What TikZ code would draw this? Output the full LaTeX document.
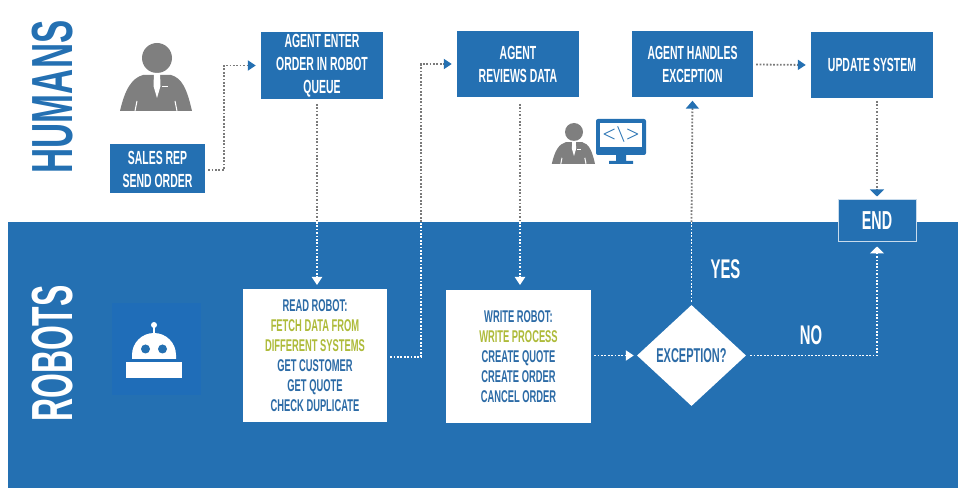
\documentclass[tikz,border=0pt]{standalone}
\usepackage{fontspec}
\newfontfamily\condfont[FakeStretch=0.55]{Liberation Sans}
\newfontfamily\headfont[FakeStretch=0.6]{Liberation Sans}
\usetikzlibrary{arrows.meta,shapes.geometric}
\definecolor{bandblue}{HTML}{2470B2}
\definecolor{squareblue}{HTML}{1F6DB8}
\definecolor{darktext}{HTML}{2C6BA6}
\definecolor{olivetext}{HTML}{AEBB3A}
\definecolor{dotgrey}{HTML}{7A7A7A}
\definecolor{mangrey}{HTML}{7F7F7F}
\tikzset{
  bluebox/.style={fill=bandblue,text=white,inner sep=0pt,align=center,font=\condfont\bfseries\fontsize{19}{23}\selectfont},
  whitebox/.style={fill=white,text=darktext,inner sep=0pt,align=center,font=\condfont\bfseries\fontsize{17}{20}\selectfont},
  headline/.style={text=bandblue,rotate=90,inner sep=0pt,font=\headfont\bfseries\fontsize{58}{58}\selectfont},
  greydot/.style={draw=dotgrey,line width=1.8pt,dash pattern=on 1.7pt off 1.7pt,-},
  whitedot/.style={draw=white,line width=1.8pt,dash pattern=on 1.7pt off 1.7pt,-},
  bluetip/.style={-{Triangle[length=8pt,width=10pt,color=bandblue]}},
  whitetip/.style={-{Triangle[length=8pt,width=10pt,color=white]}},
  person/.pic={
    \fill[mangrey] (0,0) circle (15);
    \fill[mangrey] (-37,53) .. controls (-32,31) and (-25,20) .. (-14,17) -- (14,17) .. controls (25,20) and (30,31) .. (35,53) -- cycle;
    \fill[white] (-3,15) -- (3,15) -- (3.5,28) -- (0,40) -- (-3.5,28) -- cycle;
    \draw[white,line width=1pt] (5,29) -- (11,29);
    \draw[white,line width=1pt] (-22,53) -- (-20,43);
    \draw[white,line width=1pt] (20,53) -- (18,43);
  }
}
\begin{document}
\begin{tikzpicture}[x=1pt,y=-1pt]
\useasboundingbox (0,0) rectangle (962,494);
\node[fill=bandblue,minimum width=950pt,minimum height=266pt,inner sep=0pt] (band) at (483,355) {};
\node[headline] (humans) at (53,97) {HUMANS};
\node[headline,text=white,font=\condfont\bfseries\fontsize{58}{58}\selectfont] (robots) at (53,353.5) {ROBOTS};
\node[bluebox,minimum width=95pt,minimum height=49pt] (sales) at (157.5,169) {SALES REP\\SEND ORDER};
\node[bluebox,minimum width=122pt,minimum height=67pt] (enter) at (322,65.5) {AGENT ENTER\\ORDER IN ROBOT\\QUEUE};
\node[bluebox,minimum width=122pt,minimum height=66pt] (reviews) at (518,64) {AGENT\\REVIEWS DATA};
\node[bluebox,minimum width=121pt,minimum height=66pt] (handles) at (692.5,64.5) {AGENT HANDLES\\EXCEPTION};
\node[bluebox,minimum width=122pt,minimum height=66pt] (update) at (872,65) {UPDATE SYSTEM};
\node[bluebox,draw=white!75!bandblue,line width=1pt,minimum width=78pt,minimum height=42pt,font=\condfont\bfseries\fontsize{26}{26}\selectfont] (endbox) at (877,221) {END};
\node[whitebox,minimum width=144pt,minimum height=133pt] (read) at (315,355.5) {READ ROBOT:\\\textcolor{olivetext}{FETCH DATA FROM}\\\textcolor{olivetext}{DIFFERENT SYSTEMS}\\GET CUSTOMER\\GET QUOTE\\CHECK DUPLICATE};
\node[whitebox,minimum width=145pt,minimum height=133pt] (write) at (518.5,356.5) {WRITE ROBOT:\\\textcolor{olivetext}{WRITE PROCESS}\\CREATE QUOTE\\CREATE ORDER\\CANCEL ORDER};
\node[diamond,aspect=1.08,fill=white,text=darktext,inner sep=0pt,minimum width=109pt,minimum height=101pt,font=\condfont\bfseries\fontsize{20}{20}\selectfont] (exception) at (691.5,355.5) {EXCEPTION?};
\node[text=white,inner sep=0pt,font=\condfont\bfseries\fontsize{27}{27}\selectfont] (yes) at (725.5,269) {YES};
\node[text=white,inner sep=0pt,font=\condfont\bfseries\fontsize{27}{27}\selectfont] (no) at (811,335) {NO};
%connectors
\coordinate (bendsales) at (224,170);
\coordinate (bendread) at (421,357);
\coordinate (crossenter) at (317,222);
\coordinate (crossread) at (421,222);
\coordinate (crossreviews) at (520,222);
\coordinate (crossyes) at (691.5,222);
\coordinate (readtop) at (317,289);
\coordinate (enterbottom) at (317,98);
\coordinate (writetop) at (520,289);
\coordinate (reviewsbottom) at (520,98);
\coordinate (updatebottom) at (877,98);
\draw[greydot,bluetip,shorten <=3pt,shorten >=5pt] (sales.east |- bendsales) -- (bendsales) |- (enter.west);
\draw[greydot,shorten <=6pt] (enterbottom) -- (crossenter);
\draw[whitedot,whitetip,shorten >=4pt] (crossenter) -- (readtop);
\draw[whitedot,shorten <=3pt] (read.east |- bendread) -- (bendread) -- (crossread);
\draw[greydot,bluetip,shorten >=5pt] (crossread) |- (reviews.west);
\draw[greydot,shorten <=6pt] (reviewsbottom) -- (crossreviews);
\draw[whitedot,whitetip,shorten >=4pt] (crossreviews) -- (writetop);
\draw[whitedot,whitetip,shorten <=3pt,shorten >=3pt] (write.east |- exception.west) -- (exception.west);
\draw[whitedot,shorten <=3pt] (exception.north) -- (crossyes);
\draw[greydot,-{Triangle[length=8pt,width=13pt,color=bandblue]},shorten >=3pt] (crossyes) -- (handles.south);
\draw[greydot,bluetip,shorten <=3pt,shorten >=5pt] (handles.east) -- (update.west);
\draw[greydot,-{Triangle[length=7pt,width=14pt,color=bandblue]},shorten <=3pt,shorten >=3pt] (updatebottom) -- (endbox.north);
\draw[whitedot,-{Triangle[length=7pt,width=14pt,color=white]},shorten <=4pt,shorten >=4pt] (exception.east) -| (endbox.south);
%icons
\pic at (157,58) {person};
\pic[scale=0.6] at (574,132) {person};
\fill[bandblue,rounded corners=2pt] (596,119) rectangle (646,155);
\fill[white] (600,123) rectangle (642,147);
\fill[bandblue] (616,155) rectangle (626,161) (609,161) rectangle (633,164);
\node[text=bandblue,inner sep=0pt,font=\bfseries\fontsize{16}{16}\selectfont] (code) at (621,135) {<\textbackslash>};
\fill[squareblue] (112,303) rectangle (201,395);
\fill[white] (132,359) -- (132,355) arc[start angle=180,end angle=360,radius=22] -- (176,359) -- cycle;
\fill[white] (126,362) rectangle (182,378);
\fill[white] (154,325) circle (3);
\draw[white,line width=1.2pt] (154,325) -- (154,334);
\fill[bandblue] (145.5,349) circle (4.5) (162.5,349) circle (4.5);
\end{tikzpicture}
\end{document}
